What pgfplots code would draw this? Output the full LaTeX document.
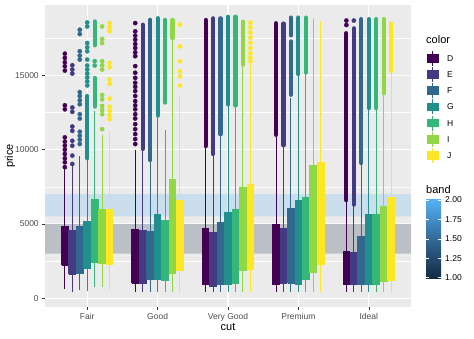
\documentclass[border=0pt]{standalone}
\usepackage{fontspec}
\setmainfont{Liberation Sans}
\usepackage{pgfplots}
\pgfplotsset{compat=1.18}
\definecolor{cD}{HTML}{440154}
\definecolor{cE}{HTML}{443A83}
\definecolor{cF}{HTML}{31688E}
\definecolor{cG}{HTML}{21908C}
\definecolor{cH}{HTML}{35B779}
\definecolor{cI}{HTML}{8FD744}
\definecolor{cJ}{HTML}{FDE725}
\definecolor{panel}{HTML}{EBEBEB}
\definecolor{bandA}{HTML}{132B43}
\definecolor{bandB}{HTML}{56B1F7}
\definecolor{bandmid}{HTML}{336A98}
\definecolor{txt}{HTML}{4D4D4D}
\definecolor{tk}{HTML}{333333}
% box: color, position, lower whisker, Q1, median, Q3, upper whisker
\newcommand{\bx}[7]{%
  \pgfmathsetmacro\xl{#2-0.0475}\pgfmathsetmacro\xr{#2+0.0475}%
  \edef\tmp{\noexpand\addplot[draw=#1, line width=1pt] coordinates {(#2,#3) (#2,#7)};%
  \noexpand\addplot[draw=#1, fill=#1, line width=1pt] coordinates {(\xl,#4) (\xr,#4) (\xr,#6) (\xl,#6) (\xl,#4)};}%
  \tmp}
% dense run of outliers: color, position, from, to
\newcommand{\seg}[4]{\addplot[draw=#1, line width=4.2pt, line cap=round] coordinates {(#2,#3) (#2,#4)};}
% single outliers
\newcommand{\pts}[2]{\addplot[only marks, mark=*, mark size=2.1pt, color=#1, mark options={solid, fill=#1, draw=none}] coordinates {#2};}
\begin{document}
\begin{tikzpicture}
\useasboundingbox (0pt,0pt) rectangle (474pt,338pt);
\fill[white] (0pt,0pt) rectangle (474pt,338pt);
\begin{axis}[
  at={(45pt,31pt)}, anchor=south west,
  scale only axis, width=366pt, height=302pt,
  xmin=0.4, xmax=5.6, ymin=-599, ymax=19748,
  axis background/.style={fill=panel},
  axis line style={draw=none},
  xtick={1,2,3,4,5},
  xticklabels={Fair,Good,Very Good,Premium,Ideal},
  ytick={0,5000,10000,15000},
  yticklabels={0,5000,10000,15000},
  minor ytick={2500,7500,12500,17500},
  grid=both,
  major grid style={white, line width=1.07pt},
  minor grid style={white, line width=0.53pt},
  tick pos=left, tick align=outside,
  major tick length=2.75pt, minor tick length=0pt,
  tick style={draw=tk, line width=0.5pt},
  xticklabel style={font=\fontsize{8.5}{10}\selectfont, text=txt},
  yticklabel style={font=\fontsize{8.5}{10}\selectfont, text=txt},
]
% bands
\addplot[draw=none, fill=bandA, fill opacity=0.22] coordinates {(0.4,3000) (5.6,3000) (5.6,5000) (0.4,5000) (0.4,3000)};
\addplot[draw=none, fill=bandB, fill opacity=0.22] coordinates {(0.4,5500) (5.6,5500) (5.6,7000) (0.4,7000) (0.4,5500)};
% ---------- Fair ----------
\bx{cD}{0.682}{600}{2209}{3730}{4839}{8700}
\bx{cE}{0.788}{400}{1606}{2956}{4571}{8900}
\bx{cF}{0.894}{535}{1651}{3035}{4839}{9600}
\bx{cG}{1.000}{446}{2008}{3057}{5132}{9300}
\bx{cH}{1.106}{780}{2410}{3816}{6648}{12600}
\bx{cI}{1.212}{780}{2320}{3246}{5957}{11000}
\bx{cJ}{1.318}{513}{2276}{3302}{5957}{11200}
\pts{cD}{(0.682,16470)(0.682,16180)(0.682,15890)(0.682,15620)(0.682,15330)(0.682,12990)(0.682,12720)(0.682,10830)(0.682,10540)(0.682,10270)(0.682,10000)(0.682,9710)(0.682,9420)(0.682,9150)(0.682,8820)}
\pts{cE}{(0.788,15690)(0.788,15400)(0.788,15130)(0.788,12840)(0.788,12550)(0.788,11560)(0.788,11270)(0.788,10600)(0.788,10270)(0.788,9600)(0.788,9040)}
\pts{cF}{(0.894,18080)(0.894,17790)(0.894,16630)(0.894,16340)(0.894,16070)(0.894,13880)(0.894,13620)(0.894,13330)(0.894,13060)(0.894,12390)(0.894,12100)(0.894,11210)(0.894,10940)(0.894,10670)(0.894,10380)}
\pts{cG}{(1,18570)(1,18300)(1,17190)(1,16900)(1,16630)(1,16070)(1,15670)(1,15400)(1,15130)(1,14870)(1,14600)(1,14330)}
\seg{cG}{1.000}{9420}{13620}
\seg{cH}{1.106}{17030}{18640}
\pts{cH}{(1.106,15960)(1.106,15670)}
\seg{cH}{1.106}{12900}{14840}
\pts{cI}{(1.212,18300)(1.212,17460)(1.212,17190)(1.212,15960)(1.212,15680)(1.212,15400)(1.212,13680)(1.212,13390)(1.212,12950)(1.212,12670)(1.212,12390)(1.212,11380)}
\pts{cJ}{(1.318,18530)(1.318,18240)(1.318,17970)(1.318,15850)(1.318,15560)(1.318,14730)(1.318,14440)(1.318,13440)(1.318,12900)(1.318,12620)(1.318,12320)(1.318,12050)}
% ---------- Good ----------
\bx{cD}{1.682}{430}{1004}{2728}{4640}{10000}
\bx{cE}{1.788}{400}{1004}{2420}{4573}{9900}
\bx{cF}{1.894}{400}{1272}{2647}{4462}{9200}
\bx{cG}{2.000}{420}{1272}{3340}{5645}{12200}
\bx{cH}{2.106}{400}{1160}{3468}{5243}{11300}
\bx{cI}{2.212}{420}{1673}{3639}{7965}{17400}
\bx{cJ}{2.318}{400}{1852}{3733}{6581}{13600}
\pts{cD}{(1.682,18530)(1.682,17970)(1.682,17680)(1.682,17410)(1.682,17120)(1.682,16850)(1.682,16560)(1.682,16300)(1.682,15630)(1.682,15180)(1.682,14840)(1.682,14510)(1.682,14240)(1.682,13950)(1.682,13620)(1.682,13280)(1.682,12990)(1.682,12720)(1.682,12390)(1.682,12100)(1.682,11720)(1.682,11380)(1.682,11050)(1.682,10710)(1.682,10380)}
\seg{cE}{1.788}{10050}{18420}
\seg{cF}{1.894}{9300}{18750}
\seg{cG}{2.000}{12300}{18860}
\seg{cH}{2.106}{13170}{18750}
\seg{cI}{2.212}{17520}{18750}
\pts{cJ}{(2.318,18420)(2.318,16960)(2.318,15960)(2.318,15290)(2.318,14950)(2.318,14330)}
% ---------- Very Good ----------
\bx{cD}{2.682}{400}{892}{2310}{4685}{10100}
\bx{cE}{2.788}{380}{781}{1989}{4417}{9600}
\bx{cF}{2.894}{400}{937}{2471}{5065}{11000}
\bx{cG}{3.000}{380}{892}{2437}{5800}{13000}
\bx{cH}{3.106}{380}{1004}{3734}{5957}{12900}
\bx{cI}{3.212}{380}{1852}{3888}{7429}{15600}
\bx{cJ}{3.318}{380}{1896}{4113}{7630}{15800}
\seg{cD}{2.682}{10240}{18740}
\seg{cE}{2.788}{9705}{18850}
\seg{cF}{2.894}{11040}{18850}
\seg{cG}{3.000}{13050}{18960}
\seg{cH}{3.106}{12980}{18960}
\seg{cI}{3.212}{15726}{18630}
\pts{cJ}{(3.318,18560)(3.318,18240)(3.318,17900)(3.318,17560)(3.318,17200)(3.318,16850)(3.318,16500)(3.318,16200)(3.318,15950)}
% ---------- Premium ----------
\bx{cD}{3.682}{380}{892}{2009}{4975}{10900}
\bx{cE}{3.788}{380}{1004}{1928}{4685}{10200}
\bx{cF}{3.894}{380}{1004}{2841}{6068}{13500}
\bx{cG}{4.000}{380}{892}{2745}{6581}{15000}
\bx{cH}{4.106}{400}{1227}{4511}{6804}{15100}
\bx{cI}{4.212}{380}{1718}{4640}{8934}{18800}
\bx{cJ}{4.318}{400}{2231}{5063}{9112}{18700}
\seg{cD}{3.682}{11000}{18520}
\seg{cE}{3.788}{10300}{18500}
\seg{cF}{3.894}{13700}{17290}
\seg{cF}{3.894}{17700}{18900}
\seg{cG}{4.000}{15100}{18900}
\seg{cH}{4.106}{15200}{18900}
% ---------- Ideal ----------
\bx{cD}{4.682}{400}{892}{1576}{3168}{6550}
\bx{cE}{4.788}{380}{892}{1437}{3056}{6250}
\bx{cF}{4.894}{400}{892}{1775}{4172}{9050}
\bx{cG}{5.000}{400}{892}{1857}{5645}{12700}
\bx{cH}{5.106}{400}{950}{2278}{5645}{12700}
\bx{cI}{5.212}{380}{1115}{2659}{6180}{13700}
\bx{cJ}{5.318}{380}{1160}{4096}{6804}{15200}
\pts{cD}{(4.682,18700)(4.682,18400)}
\seg{cD}{4.682}{6600}{17850}
\pts{cE}{(4.788,18700)}
\seg{cE}{4.788}{6300}{18180}
\seg{cF}{4.894}{9100}{18800}
\seg{cG}{5.000}{12800}{18800}
\seg{cH}{5.106}{12800}{18800}
\seg{cI}{5.212}{13800}{18800}
\seg{cJ}{5.318}{15300}{18500}
\end{axis}
\begin{scope}[x=1pt,y=1pt]
% axis titles
\node[rotate=90, font=\fontsize{11}{13}\selectfont] at (10,182) {price};
\node[font=\fontsize{11}{13}\selectfont] at (228,11) {cut};
% legend: color
\node[anchor=west, inner sep=0pt, font=\fontsize{11}{13}\selectfont] at (426,298) {color};
\foreach \c/\l/\yc in {cD/D/279.7, cE/E/263.5, cF/F/247.3, cG/G/231.1, cH/H/214.9, cI/I/198.7, cJ/J/182.5}{
  \draw[\c, line width=1pt] (432.8,\yc-7.5) -- (432.8,\yc+7.5);
  \fill[\c] (427,\yc-4.3) rectangle (438.6,\yc+4.3);
  \node[anchor=west, inner sep=0pt, font=\fontsize{8.5}{10}\selectfont] at (447,\yc) {\l};
}
% legend: band
\node[anchor=west, inner sep=0pt, font=\fontsize{11}{13}\selectfont] at (426,148.7) {band};
\shade[top color=bandB, bottom color=bandA, middle color=bandmid] (426,60) rectangle (441,139);
\foreach \v/\yy in {2.00/138, 1.75/118.6, 1.50/99.2, 1.25/79.7, 1.00/60.3}{
  \draw[white, line width=0.5pt] (426,\yy) -- (429,\yy);
  \draw[white, line width=0.5pt] (438,\yy) -- (441,\yy);
  \node[anchor=west, inner sep=0pt, font=\fontsize{8.5}{10}\selectfont] at (445,\yy) {\v};
}
\end{scope}
\end{tikzpicture}
\end{document}
